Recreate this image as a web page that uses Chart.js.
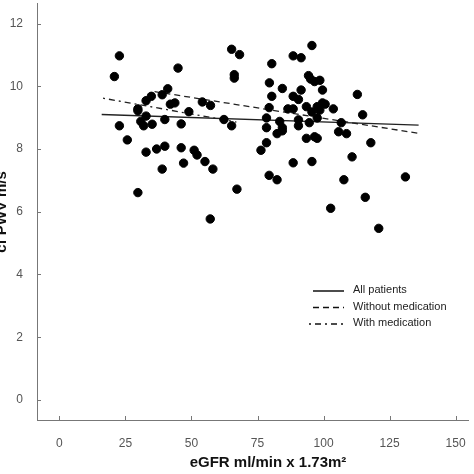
<!DOCTYPE html>
<html><head><meta charset="utf-8">
<script src="https://cdn.jsdelivr.net/npm/chart.js@4/dist/chart.umd.min.js"></script>
<style>html,body{margin:0;padding:0;background:#fff}#w{width:474px;height:474px}</style>
</head><body><div id="w"><canvas id="c"></canvas></div>
<script>
const egfr=[22.7,20.8,65.2,68.2,44.9,66.2,66.2,41.0,34.8,38.9,32.8,29.7,29.7,32.8,42.0,43.7,54.1,57.2,49.0,39.9,30.8,31.9,35.1,46.1,22.7,62.3,65.2,25.7,32.8,36.8,39.9,46.1,51.0,52.1,47.0,55.1,58.1,38.9,29.7,67.2,57.1,
95.6,88.5,91.5,80.4,94.3,95.1,96.6,98.6,79.5,84.4,91.5,99.6,112.8,80.4,88.5,90.5,99.6,100.6,79.4,86.5,88.5,93.5,97.6,98.6,103.7,95.6,114.8,78.4,97.6,83.4,90.5,94.6,106.7,90.5,78.4,84.4,84.4,82.4,105.7,108.7,93.5,96.6,97.6,117.9,78.4,76.3,110.8,88.5,95.6,79.4,82.4,107.7,131.0,115.8,102.7,120.9];
const pwv=[10.97,10.31,11.18,11.01,10.58,10.37,10.26,9.92,9.68,9.73,9.54,9.28,9.22,9.05,9.43,9.47,9.5,9.39,9.19,8.94,8.88,8.74,8.79,8.8,8.74,8.94,8.74,8.29,7.9,8.0,8.09,8.04,7.96,7.81,7.55,7.6,7.36,7.36,6.61,6.72,5.77,
11.3,10.97,10.91,10.72,10.34,10.23,10.15,10.19,10.11,9.93,9.88,9.88,9.74,9.68,9.68,9.58,9.47,9.43,9.32,9.28,9.28,9.35,9.35,9.24,9.28,9.18,9.09,8.99,8.99,8.88,8.93,8.84,8.84,8.74,8.68,8.68,8.58,8.49,8.55,8.49,8.34,8.39,8.34,8.2,8.2,7.96,7.75,7.56,7.6,7.16,7.02,7.02,7.11,6.46,6.11,5.47];
const allX=[16,136], allY=[9.1,8.76];
const noMedX=[36,136], noMedY=[9.83,8.5];
const medX=[16.5,67], medY=[9.62,8.86];
const xTicks=[0,25,50,75,100,125,150];
const yTicks=[0,2,4,6,8,10,12];
const legendLabels=['All patients','Without medication','With medication'];
const dashes=[[],[6,4],[2,4,6,4]];
const pts=(xs,ys)=>xs.map((x,i)=>({x,y:ys[i]}));
const lineDs=(xs,ys,d)=>({type:'line',data:pts(xs,ys),borderColor:'#222',borderWidth:1.3,borderDash:d,pointRadius:0,fill:false});
const fontF='"Liberation Sans", Arial, sans-serif';
const extras={id:'extras',afterDraw(ch){
 const c=ch.ctx,xs=ch.scales.x,ys=ch.scales.y;c.save();
 c.strokeStyle='#777';c.lineWidth=1;
 c.beginPath();c.moveTo(xs.left+0.5,3);c.lineTo(xs.left+0.5,ys.top);c.stroke();
 xTicks.forEach(v=>{const p=Math.round(xs.getPixelForValue(v))+0.5;c.beginPath();c.moveTo(p,ys.bottom);c.lineTo(p,ys.bottom-4);c.stroke();});
 yTicks.forEach(v=>{const p=Math.round(ys.getPixelForValue(v))+0.5;c.beginPath();c.moveTo(xs.left,p);c.lineTo(xs.left+4,p);c.stroke();});
 c.fillStyle='#111';c.font='bold 15px '+fontF;c.textAlign='center';c.textBaseline='middle';
 c.fillText('eGFR ml/min x 1.73m²',268,463);
 c.save();c.translate(2,212);c.rotate(-Math.PI/2);c.fillText('cf PWV m/s',0,0);c.restore();
 c.font='11px '+fontF;c.textAlign='left';
 legendLabels.forEach((t,i)=>{const y=291+i*16.5;c.strokeStyle='#111';c.lineWidth=1.5;c.setLineDash(dashes[i]);c.beginPath();c.moveTo(i==2?309:313,y);c.lineTo(344,y);c.stroke();c.setLineDash([]);c.fillStyle='#222';c.fillText(t,353,y-1);});
 c.restore();}};
new Chart(document.getElementById('c'),{
 data:{datasets:[
  {type:'scatter',data:pts(egfr,pwv),backgroundColor:'#000',borderColor:'#000',pointRadius:4.2,pointHoverRadius:4.2},
  lineDs(allX,allY,[]),lineDs(noMedX,noMedY,[6,4]),lineDs(medX,medY,[2,4,6,4])]},
 options:{responsive:true,maintainAspectRatio:false,animation:false,
  layout:{padding:{top:3,right:0,left:0,bottom:0}},
  plugins:{legend:{display:false},tooltip:{enabled:false}},
  scales:{
   x:{type:'linear',min:-8.5,max:155,afterBuildTicks:s=>{s.ticks=xTicks.map(v=>({value:v}));},
      afterFit:s=>{s.height=54;},
      grid:{display:false},border:{display:true,color:'#777'},
      ticks:{color:'#555',font:{family:fontF,size:12},padding:8}},
   y:{type:'linear',min:-0.64,max:12.33,afterBuildTicks:s=>{s.ticks=yTicks.map(v=>({value:v}));},
      afterFit:s=>{s.width=37;},
      grid:{display:false},border:{display:true,color:'#777'},
      ticks:{color:'#555',font:{family:fontF,size:12},padding:6}}}},
 plugins:[extras]});
</script></body></html>
